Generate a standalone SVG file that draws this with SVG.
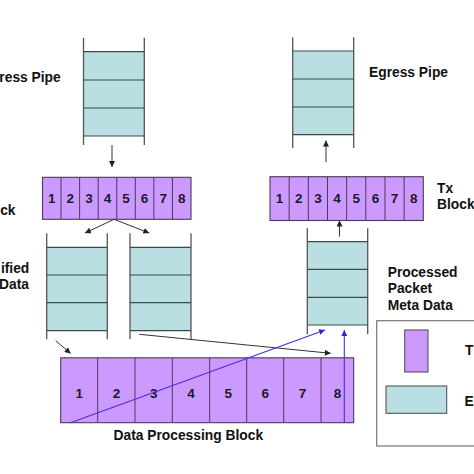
<svg xmlns="http://www.w3.org/2000/svg" width="474" height="474" viewBox="0 0 474 474">
<defs>
<style>
.lbl{font-family:"Liberation Sans",Arial,sans-serif;font-weight:bold;font-size:13.8px;fill:#111}
.num{font-family:"Liberation Sans",Arial,sans-serif;font-weight:bold;font-size:13.5px;fill:#1a1a2a;text-anchor:middle}
.pipe{fill:#b9dfe2}
.rail{stroke:#555;stroke-width:1.3;fill:none}
.sep{stroke:#3c4a4a;stroke-width:1.2;fill:none}
.blk{fill:#cc99ff;stroke:#4a3a5a;stroke-width:1.1}
.cell{stroke:#4a3a5a;stroke-width:1}
.con{stroke:#333;stroke-width:1;fill:none}
.blue{stroke:#4a2fd8;stroke-width:1.1;fill:none}
</style>
<marker id="ah" markerUnits="userSpaceOnUse" markerWidth="7" markerHeight="6" refX="6" refY="3" orient="auto"><path d="M0,0 L6,3 L0,6 Z" fill="#222"/></marker>
<marker id="ahb" markerUnits="userSpaceOnUse" markerWidth="7" markerHeight="6" refX="6" refY="3" orient="auto"><path d="M0,0 L6,3 L0,6 Z" fill="#3a20d0"/></marker>
</defs>
<rect width="474" height="474" fill="#fff"/>

<g id="ingress-pipe">
<rect class="pipe" x="83.5" y="51.7" width="60.8" height="84.3"/>
<path class="rail" d="M83.5,37.7V145M144.3,37.7V145"/>
<path class="sep" d="M83.5,51.7H144.3M83.5,80H144.3M83.5,108H144.3M83.5,136H144.3"/>
<text class="lbl" x="60.7" y="82" text-anchor="end">ress Pipe</text>
</g>

<g id="egress-pipe">
<rect class="pipe" x="292.7" y="51" width="61" height="83.7"/>
<path class="rail" d="M292.7,37.3V148M353.7,37.3V148"/>
<path class="sep" d="M292.7,51H353.7M292.7,79H353.7M292.7,107H353.7M292.7,134.7H353.7"/>
<text class="lbl" x="369" y="77">Egress Pipe</text>
</g>

<g id="rx-block">
<rect class="blk" x="42.5" y="177.3" width="148.5" height="42"/>
<path class="cell" d="M61.06,177.3V219.3M79.62,177.3V219.3M98.19,177.3V219.3M116.75,177.3V219.3M135.31,177.3V219.3M153.87,177.3V219.3M172.44,177.3V219.3"/>
<text class="num" x="51.8" y="203">1</text><text class="num" x="70.3" y="203">2</text><text class="num" x="88.9" y="203">3</text><text class="num" x="107.5" y="203">4</text><text class="num" x="126" y="203">5</text><text class="num" x="144.6" y="203">6</text><text class="num" x="163.2" y="203">7</text><text class="num" x="181.7" y="203">8</text>
<text class="lbl" x="15.5" y="215" text-anchor="end">ck</text>
</g>

<g id="tx-block">
<rect class="blk" x="270" y="176.7" width="153.3" height="43.8"/>
<path class="cell" d="M289.16,176.7V220.5M308.33,176.7V220.5M327.49,176.7V220.5M346.65,176.7V220.5M365.81,176.7V220.5M384.98,176.7V220.5M404.14,176.7V220.5"/>
<text class="num" x="279.6" y="203">1</text><text class="num" x="298.7" y="203">2</text><text class="num" x="317.9" y="203">3</text><text class="num" x="337.1" y="203">4</text><text class="num" x="356.2" y="203">5</text><text class="num" x="375.4" y="203">6</text><text class="num" x="394.6" y="203">7</text><text class="num" x="413.7" y="203">8</text>
<text class="lbl" x="437" y="192.5">Tx</text>
<text class="lbl" x="437" y="209">Block</text>
</g>

<g id="classified-pipe-left">
<rect class="pipe" x="46.7" y="247.3" width="60.6" height="83.4"/>
<path class="rail" d="M46.7,233.3V339.3M107.3,233.3V339.3"/>
<path class="sep" d="M46.7,247.3H107.3M46.7,275H107.3M46.7,302.7H107.3M46.7,330.7H107.3"/>
<text class="lbl" x="29.3" y="273.3" text-anchor="end">ified</text>
<text class="lbl" x="29" y="289" text-anchor="end">Data</text>
</g>

<g id="classified-pipe-right">
<rect class="pipe" x="130" y="247.3" width="61" height="83.4"/>
<path class="rail" d="M130,233.3V339.3M191,233.3V339.3"/>
<path class="sep" d="M130,247.3H191M130,275H191M130,302.7H191M130,330.7H191"/>
</g>

<g id="processed-pipe">
<rect class="pipe" x="307.3" y="241.7" width="60.4" height="83.3"/>
<path class="rail" d="M307.3,228.3V334.3M367.7,228.3V334.3"/>
<path class="sep" d="M307.3,241.7H367.7M307.3,269.3H367.7M307.3,297.3H367.7M307.3,325H367.7"/>
<text class="lbl" x="387.7" y="276.7">Processed</text>
<text class="lbl" x="387.7" y="293.3">Packet</text>
<text class="lbl" x="387.7" y="310">Meta Data</text>
</g>

<g id="data-processing-block">
<rect class="blk" x="60.7" y="357.8" width="293" height="64.9"/>
<path class="cell" d="M97.7,357.8V422.7M135,357.8V422.7M172.3,357.8V422.7M209.7,357.8V422.7M246.7,357.8V422.7M283.7,357.8V422.7M321,357.8V422.7"/>
<text class="num" x="79.2" y="397.5">1</text><text class="num" x="116.4" y="397.5">2</text><text class="num" x="153.7" y="397.5">3</text><text class="num" x="191" y="397.5">4</text><text class="num" x="228.2" y="397.5">5</text><text class="num" x="265.2" y="397.5">6</text><text class="num" x="302.4" y="397.5">7</text><text class="num" x="337.4" y="397.5">8</text>
<text class="lbl" x="188.3" y="440" text-anchor="middle">Data Processing Block</text>
</g>

<g id="legend">
<rect x="376.7" y="320.7" width="110" height="125.3" fill="#fff" stroke="#777" stroke-width="1.2"/>
<rect x="404.7" y="330" width="23.3" height="42" fill="#cc99ff" stroke="#555" stroke-width="1.1"/>
<rect x="386" y="386" width="60.7" height="27.3" fill="#b9dfe2" stroke="#555" stroke-width="1.1"/>
<text class="lbl" x="465" y="355">T</text>
<text class="lbl" x="464.5" y="405.7">E</text>
</g>

<g id="connectors">
<path class="con" d="M112,145V167" marker-end="url(#ah)"/>
<path class="con" d="M326,162V140.5" marker-end="url(#ah)"/>
<path class="con" d="M114,219.3L85,233" marker-end="url(#ah)"/>
<path class="con" d="M114,219.3L149.3,233" marker-end="url(#ah)"/>
<path class="con" d="M55.7,340.7L70.7,353.5" marker-end="url(#ah)"/>
<path class="con" d="M139.3,334.3L330.7,353.3" marker-end="url(#ah)"/>
<path class="con" d="M339.5,236.7V220.5" marker-end="url(#ah)"/>
<path class="blue" d="M70.5,422.7L325,330" marker-end="url(#ahb)"/>
<path class="blue" d="M344.3,422.7V330" marker-end="url(#ahb)"/>
</g>
</svg>
